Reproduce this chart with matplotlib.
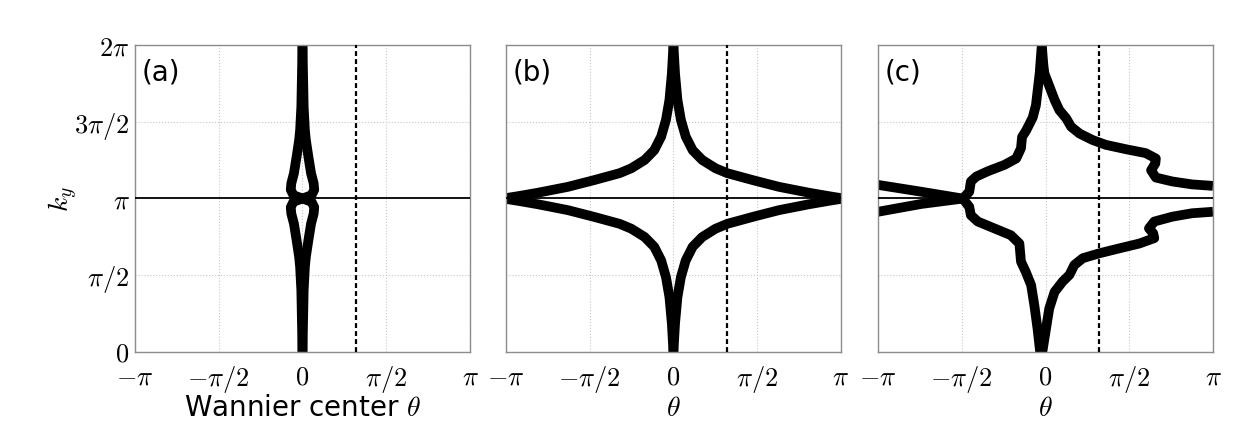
import matplotlib
matplotlib.use('Agg')
import matplotlib.pyplot as plt
import numpy as np

# panel (a): upper-right strand, mirrored in theta and in ky about pi
a_ky = [3.14, 3.21, 3.32, 3.45, 3.66, 4.00, 4.34, 4.54, 5.02, 5.70, 6.28]
a_theta = [0.0, 0.17, 0.22, 0.21, 0.16, 0.11, 0.063, 0.045, 0.022, 0.01, 0.0]

# panel (b): upper-right branch, mirrored the same way
b_theta = [0.0, 0.03, 0.075, 0.14, 0.23, 0.36, 0.54, 0.79, 1.01, 1.48, 1.98,
           2.54, 2.91, 3.14]
b_ky = [6.28, 5.70, 5.16, 4.75, 4.41, 4.13, 3.93, 3.76, 3.66, 3.52, 3.38,
        3.26, 3.19, 3.15]

# panel (c): no symmetry, every branch read separately
c_uc_theta = [-1.55, -1.43, -1.40, -1.30, -1.08, -0.77, -0.55, -0.46, -0.44,
              -0.36, -0.24, -0.18, -0.11, -0.07]
c_uc_ky = [3.14, 3.28, 3.49, 3.59, 3.70, 3.83, 3.96, 4.17, 4.40, 4.54, 4.80,
           5.05, 5.70, 6.28]
c_lc_theta = [-1.55, -1.43, -1.40, -1.27, -0.96, -0.65, -0.49, -0.46, -0.37,
              -0.27, -0.21, -0.15, -0.10]
c_lc_ky = [3.14, 2.97, 2.80, 2.67, 2.53, 2.39, 2.22, 1.85, 1.64, 1.37, 0.96,
           0.48, 0.0]
c_ur_theta = [-0.07, -0.04, -0.02, 0.075, 0.17, 0.26, 0.39, 0.48, 0.64, 0.88,
              1.13, 1.51, 1.88, 2.07, 2.06, 1.98, 2.07, 2.38, 2.75, 3.14]
c_ur_ky = [6.28, 5.87, 5.70, 5.43, 5.16, 4.95, 4.78, 4.61, 4.47, 4.34, 4.24,
           4.15, 4.07, 3.96, 3.86, 3.72, 3.57, 3.49, 3.43, 3.40]
c_lr_theta = [-0.06, 0.01, 0.07, 0.17, 0.32, 0.45, 0.54, 0.70, 1.01, 1.38,
              1.76, 2.04, 2.02, 1.94, 2.04, 2.38, 2.75, 3.14]
c_lr_ky = [0.0, 0.48, 0.89, 1.23, 1.44, 1.58, 1.78, 1.92, 2.02, 2.12, 2.22,
           2.33, 2.43, 2.53, 2.67, 2.77, 2.84, 2.87]
c_lu_theta = [-3.14, -2.33, -1.55]
c_lu_ky = [3.42, 3.28, 3.14]
c_ll_theta = [-3.14, -2.33, -1.55]
c_ll_ky = [2.87, 3.03, 3.14]

theta_cut = 1.0

xticks = [-np.pi, -np.pi / 2, 0, np.pi / 2, np.pi]
xticklabels = [r'$-\pi$', r'$-\pi/2$', r'$0$', r'$\pi/2$', r'$\pi$']
yticks = [0, np.pi / 2, np.pi, 3 * np.pi / 2, 2 * np.pi]
yticklabels = [r'$0$', r'$\pi/2$', r'$\pi$', r'$3\pi/2$', r'$2\pi$']

LW = 7


def mirrored(ax, th, ky):
    th = np.asarray(th)
    ky = np.asarray(ky)
    for sx in (1, -1):
        for upper in (True, False):
            yy = ky if upper else 2 * np.pi - ky
            ax.plot(sx * th, yy, 'k', lw=LW, solid_joinstyle='round',
                    solid_capstyle='butt')


def style(ax, label, show_y):
    ax.set_xlim(-np.pi, np.pi)
    ax.set_ylim(0, 2 * np.pi)
    ax.set_xticks(xticks)
    ax.set_xticklabels(xticklabels)
    ax.set_yticks(yticks)
    if show_y:
        ax.set_yticklabels(yticklabels)
    else:
        ax.set_yticklabels([])
    ax.tick_params(length=0, labelsize=19)
    ax.tick_params(axis='x', pad=9)
    ax.tick_params(axis='y', pad=4)
    ax.grid(True, color='#c8c8c8', linestyle=':', lw=0.8)
    for s in ax.spines.values():
        s.set_color('#8c8c8c')
        s.set_linewidth(1.0)
    ax.axhline(np.pi, color='k', lw=1.3, zorder=3)
    ax.axvline(theta_cut, color='k', lw=1.6, linestyle=(0, (2.2, 1.4)),
               zorder=3)
    ax.text(0.02, 0.955, label, transform=ax.transAxes, fontsize=20,
            va='top', ha='left')


def main():
    plt.rcParams['mathtext.fontset'] = 'cm'
    fig = plt.figure(figsize=(12.57, 4.29), dpi=100)
    w, h, b = 0.2665, 0.7156, 0.1795
    ax1 = fig.add_axes([0.1074, b, w, h])
    ax2 = fig.add_axes([0.4025, b, w, h])
    ax3 = fig.add_axes([0.6985, b, w, h])

    mirrored(ax1, a_theta, a_ky)
    mirrored(ax2, b_theta, b_ky)

    for th, ky in [(c_uc_theta, c_uc_ky), (c_lc_theta, c_lc_ky),
                   (c_ur_theta, c_ur_ky), (c_lr_theta, c_lr_ky),
                   (c_lu_theta, c_lu_ky), (c_ll_theta, c_ll_ky)]:
        ax3.plot(th, ky, 'k', lw=LW, solid_joinstyle='round',
                 solid_capstyle='butt')

    style(ax1, '(a)', True)
    style(ax2, '(b)', False)
    style(ax3, '(c)', False)

    ax1.set_xlabel(r'Wannier center $\theta$', fontsize=20, labelpad=-1)
    ax2.set_xlabel(r'$\theta$', fontsize=20, labelpad=-1)
    ax3.set_xlabel(r'$\theta$', fontsize=20, labelpad=-1)
    ax1.set_ylabel(r'$k_y$', fontsize=20, labelpad=-4)

    fig.savefig('out.png', dpi=100)


if __name__ == '__main__':
    main()
